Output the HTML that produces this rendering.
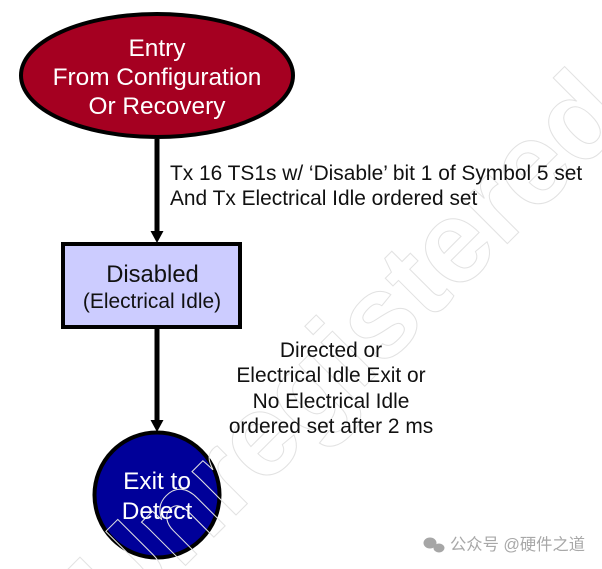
<!DOCTYPE html>
<html><head><meta charset="utf-8"><style>
html,body{margin:0;padding:0;background:#fff;width:602px;height:569px;overflow:hidden}
svg{display:block;overflow:hidden}
text{font-family:"Liberation Sans",sans-serif}
</style></head><body>
<svg width="602" height="569" viewBox="0 0 602 569" xmlns="http://www.w3.org/2000/svg">
<rect width="602" height="569" fill="#fff"/>
<ellipse cx="157" cy="75.5" rx="136" ry="61.5" fill="#a50021" stroke="#000" stroke-width="4"/>
<rect x="63" y="244" width="177" height="83" fill="#ccccff" stroke="#000" stroke-width="4"/>
<circle cx="157" cy="495" r="62.5" fill="#000099" stroke="#000" stroke-width="4"/>
<rect x="154.5" y="139" width="5" height="92" fill="#000"/>
<polygon points="150.5,231 163.5,231 157,243" fill="#000"/>
<rect x="154.5" y="328" width="5" height="92" fill="#000"/>
<polygon points="150.5,420 163.5,420 157,432" fill="#000"/>
<g fill="none" stroke="#e2e2e2" stroke-width="1" font-size="117" font-weight="bold">
<text transform="translate(120,631) rotate(-45)">Unregistered</text>
</g>
<g fill="#fff" font-size="24.4" text-anchor="middle">
<text x="157" y="56">Entry</text>
<text x="157" y="85">From Configuration</text>
<text x="157" y="114">Or Recovery</text>
<text x="157" y="489">Exit to</text>
<text x="157" y="519">Detect</text>
</g>
<g fill="#111" text-anchor="middle">
<text x="152.5" y="282" font-size="23.8">Disabled</text>
<text x="152" y="308" font-size="20.9">(Electrical Idle)</text>
<g font-size="20.9">
<text x="331" y="357">Directed or</text>
<text x="331" y="382">Electrical Idle Exit or</text>
<text x="331" y="408">No Electrical Idle</text>
<text x="331" y="433">ordered set after 2 ms</text>
</g>
</g>
<g fill="#111" font-size="20.9">
<text x="170" y="180">Tx 16 TS1s w/ ‘Disable’ bit 1 of Symbol 5 set</text>
<text x="170" y="205">And Tx Electrical Idle ordered set</text>
</g>
<g fill="#a6a6a6">
<ellipse cx="430" cy="543" rx="6.5" ry="5.5"/>
<ellipse cx="439" cy="548" rx="5.5" ry="4.5"/>
</g>
<text x="450" y="550" font-size="16.3" fill="#a8a8a8" style="font-family:'Liberation Sans','Noto Sans CJK SC',sans-serif">公众号 @硬件之道</text>
</svg>
</body></html>
